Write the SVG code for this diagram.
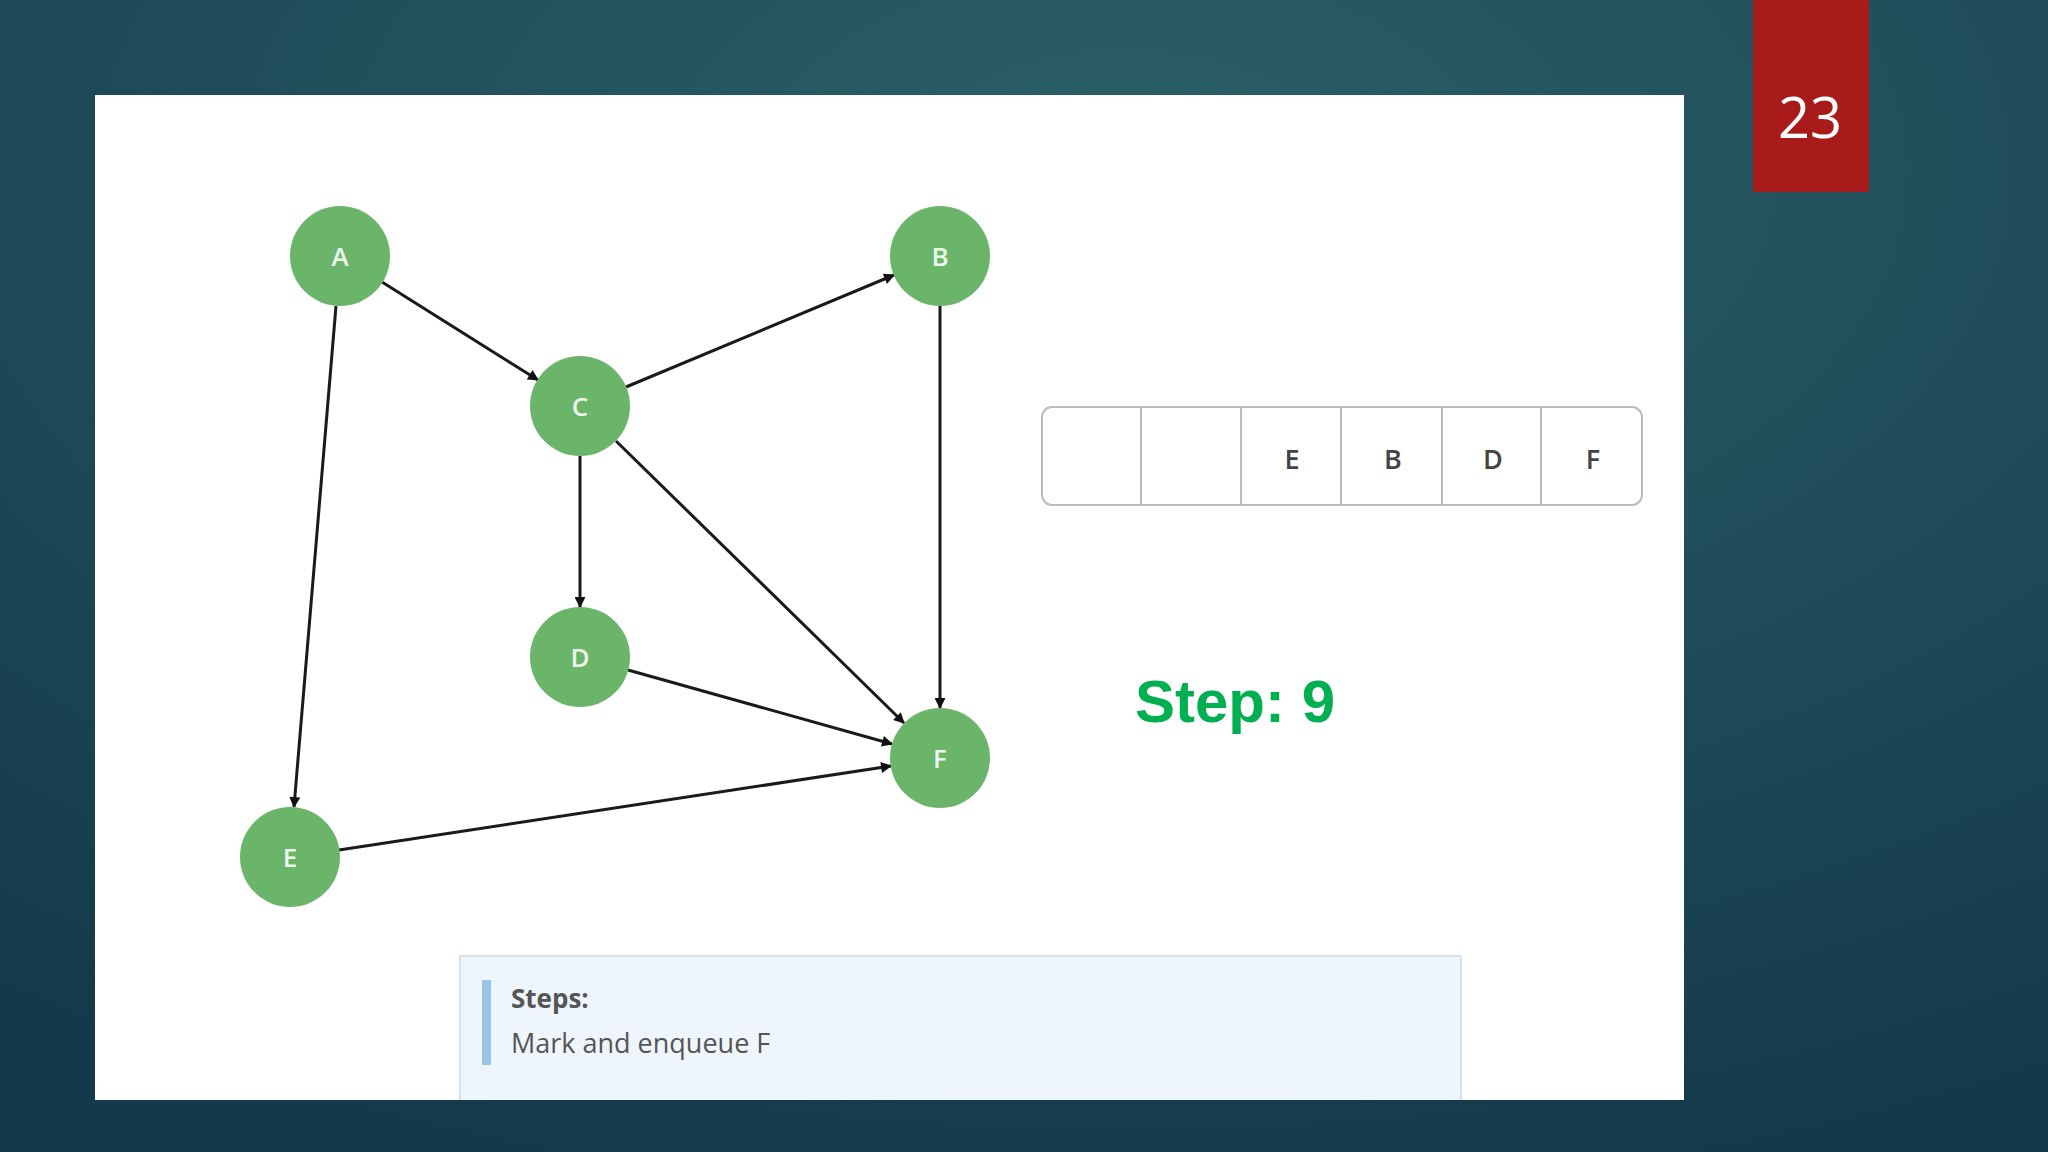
<svg xmlns="http://www.w3.org/2000/svg" width="2048" height="1152" viewBox="0 0 2048 1152">
<defs>
<radialGradient id="bg" cx="0.55" cy="0.15" r="0.9">
<stop offset="0" stop-color="#2b6067"/><stop offset="1" stop-color="#14394a"/>
</radialGradient>
<marker id="ah" viewBox="0 0 10 10" refX="9" refY="5" markerWidth="12" markerHeight="11" markerUnits="userSpaceOnUse" orient="auto"><path d="M0,0 L10,5 L0,10 z" fill="#111"/></marker>
</defs>
<style>
.n circle{fill:#6ab56a}
.n text{fill:#eef7ee;font-family:"Open Sans","Liberation Sans",sans-serif;font-size:26px;font-weight:600;text-anchor:middle;dominant-baseline:central}
.e line{stroke:#1a1a1a;stroke-width:3;marker-end:url(#ah)}
.q{fill:#444;font-family:"Open Sans","Liberation Sans",sans-serif;font-size:27px;font-weight:600;text-anchor:middle;dominant-baseline:central}
</style>
<rect width="2048" height="1152" fill="url(#bg)"/>
<rect x="95" y="95" width="1589" height="1005" fill="#fff"/>
<rect x="1753" y="0" width="116" height="192" fill="#a91b1b"/>
<text x="1810" y="138" fill="#fff" font-family="Open Sans, Liberation Sans, sans-serif" font-size="56" text-anchor="middle">23</text>
<g id="edges" class="e">
<line x1="382" y1="282" x2="538" y2="380"/>
<line x1="626" y1="387" x2="894" y2="275"/>
<line x1="336" y1="306" x2="294" y2="807"/>
<line x1="580" y1="456" x2="580" y2="607"/>
<line x1="616" y1="441" x2="904" y2="723"/>
<line x1="628" y1="670" x2="892" y2="744"/>
<line x1="940" y1="306" x2="940" y2="708"/>
<line x1="339" y1="850" x2="891" y2="766"/>
</g>
<g id="A" class="n"><circle cx="340" cy="256" r="50"/><text x="340" y="256">A</text></g>
<g id="B" class="n"><circle cx="940" cy="256" r="50"/><text x="940" y="256">B</text></g>
<g id="C" class="n"><circle cx="580" cy="406" r="50"/><text x="580" y="406">C</text></g>
<g id="D" class="n"><circle cx="580" cy="657" r="50"/><text x="580" y="657">D</text></g>
<g id="E" class="n"><circle cx="290" cy="857" r="50"/><text x="290" y="857">E</text></g>
<g id="F" class="n"><circle cx="940" cy="758" r="50"/><text x="940" y="758">F</text></g>
<g id="queue">
<rect x="1042" y="407" width="600" height="98" rx="10" fill="#fff" stroke="#bbb" stroke-width="2"/>
<g stroke="#bbb" stroke-width="2"><line x1="1141" y1="407" x2="1141" y2="505"/><line x1="1241" y1="407" x2="1241" y2="505"/><line x1="1341" y1="407" x2="1341" y2="505"/><line x1="1442" y1="407" x2="1442" y2="505"/><line x1="1541" y1="407" x2="1541" y2="505"/></g>
<text class="q" x="1292" y="458">E</text><text class="q" x="1393" y="458">B</text><text class="q" x="1493" y="458">D</text><text class="q" x="1593" y="458">F</text>
</g>
<text x="1135" y="722" fill="#00b050" font-family="Liberation Sans, Arial, sans-serif" font-weight="bold" font-size="60">Step: 9</text>
<g id="steps">
<path d="M460,1100 V956 H1461 V1100" fill="#eef5fc" stroke="#d6e2ee" stroke-width="2"/>
<rect x="482" y="980" width="9" height="85" fill="#9cc3e2"/>
<text x="511" y="1008" fill="#555" font-family="Open Sans, Liberation Sans, sans-serif" font-weight="bold" font-size="26">Steps:</text>
<text x="511" y="1053" fill="#555" font-family="Open Sans, Liberation Sans, sans-serif" font-size="27">Mark and enqueue F</text>
</g>
</svg>
